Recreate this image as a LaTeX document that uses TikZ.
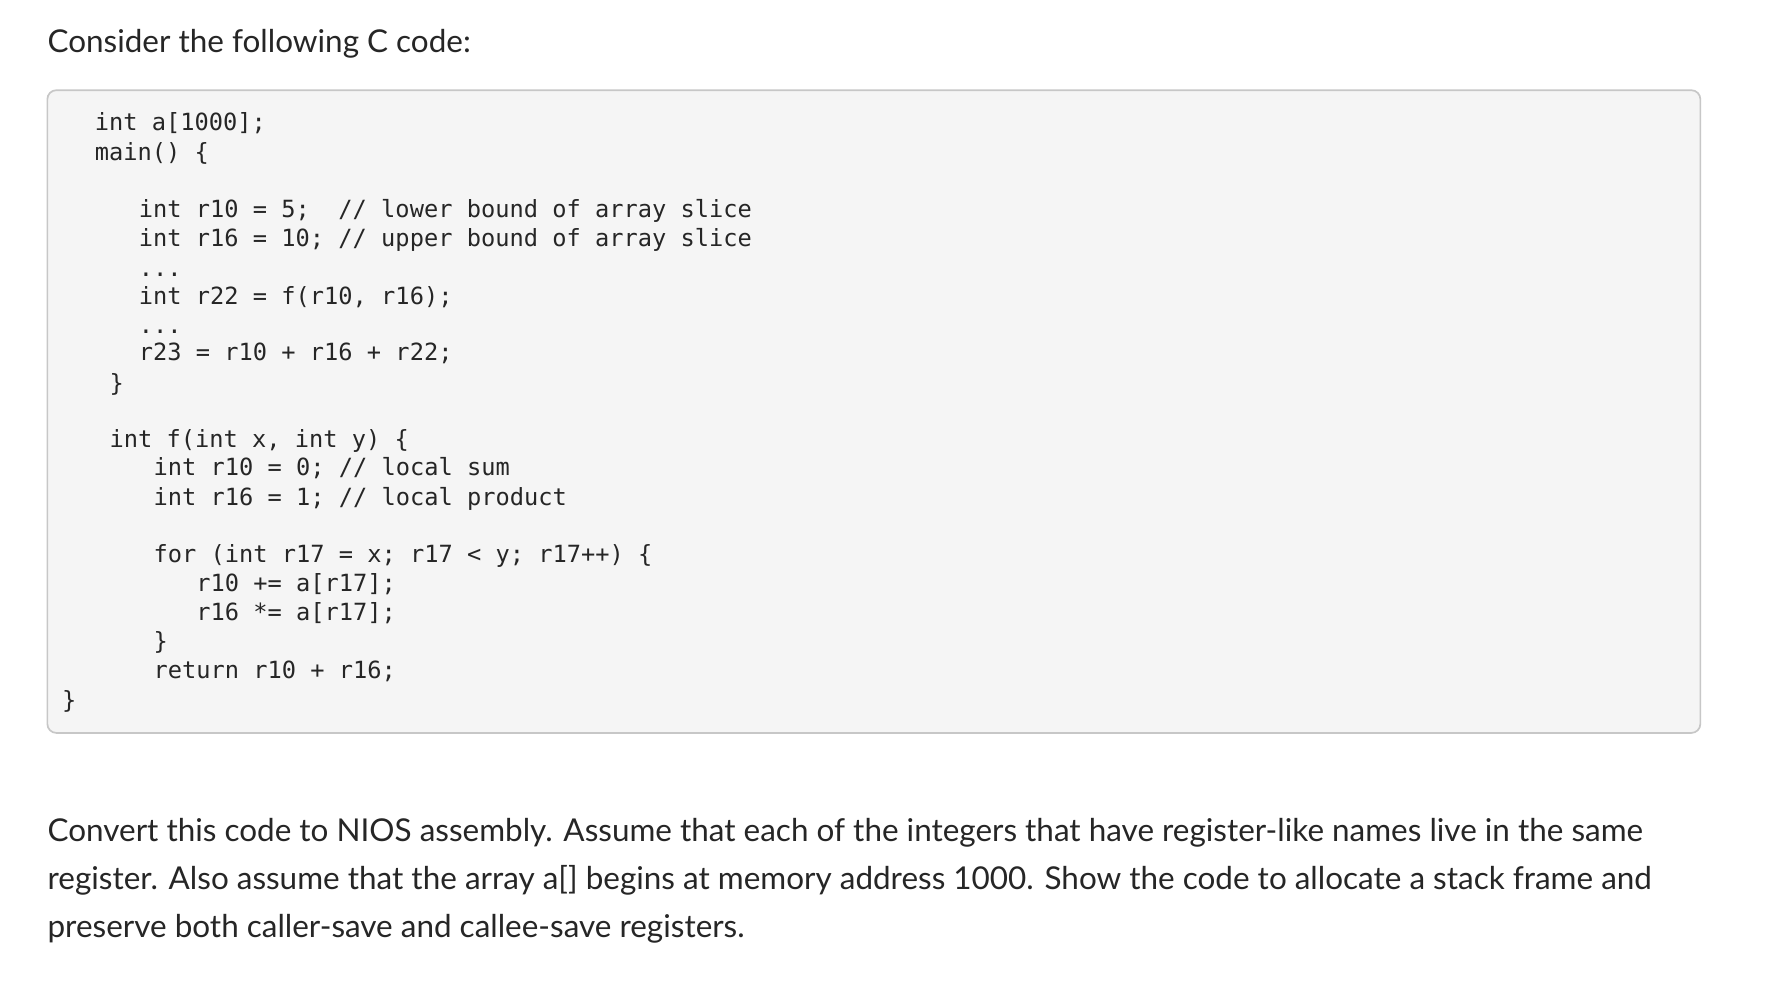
\documentclass[tikz,border=0pt]{standalone}
\usepackage{fontspec}
\setmainfont{Lato}
\setmonofont{DejaVu Sans Mono}
\begin{document}
\begin{tikzpicture}[x=1pt,y=-1pt,
 code/.style={anchor=base west,inner sep=0pt,font=\ttfamily\fontsize{21}{24}\selectfont,text=black!85},
 body/.style={anchor=base west,inner sep=0pt,font=\fontsize{27.9}{32}\selectfont,text=black!85}]
\useasboundingbox (0,0) rectangle (1568,892);
\fill[white] (0,0) rectangle (1568,892);
\node[body] (t) at (42,47) {Consider the following C code:};
\draw[rounded corners=8pt,fill=black!4,draw=black!22,line width=1.5pt] (42,80) rectangle (1508,650);
\foreach \x/\y/\s [count=\i] in {
 84/116/{int a[1000];},
 84/142/{main() \{},
 123/193/{int r10 = 5;~~// lower bound of array slice},
 123/219/{int r16 = 10; // upper bound of array slice},
 123/245/{...},
 123/270/{int r22 = f(r10, r16);},
 123/296/{...},
 123/320/{r23 = r10 + r16 + r22;},
 97/347/{\}},
 97/397/{int f(int x, int y) \{},
 136/422/{int r10 = 0; // local sum},
 136/448/{int r16 = 1; // local product},
 136/499/{for (int r17 = x; r17 < y; r17++) \{},
 174/525/{r10 += a[r17];},
 174/550/{r16 *= a[r17];},
 136/576/{\}},
 136/602/{return r10 + r16;},
 55/628/{\}}}
 \node[code] (c\i) at (\x,\y) {\s};
\node[body] (p1) at (42,746) {Convert this code to NIOS assembly. Assume that each of the integers that have register-like names live in the same};
\node[body] (p2) at (42,789) {register. Also assume that the array a[] begins at memory address 1000. Show the code to allocate a stack frame and};
\node[body] (p3) at (42,831) {preserve both caller-save and callee-save registers.};
\end{tikzpicture}
\end{document}
